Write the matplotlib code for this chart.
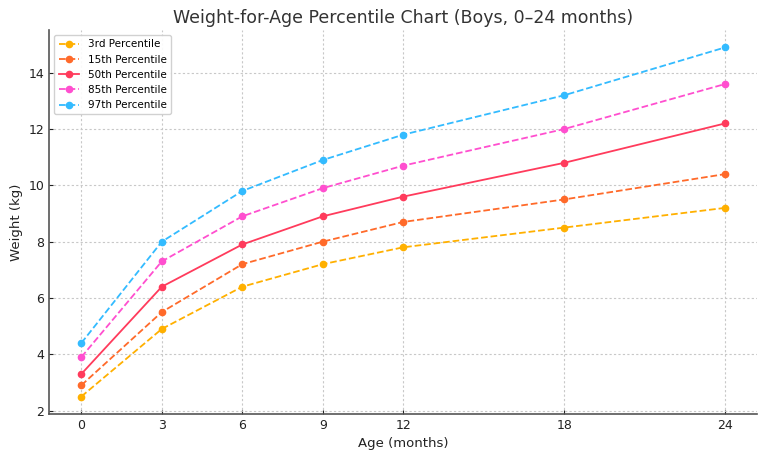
import matplotlib.pyplot as plt

ages = [0, 3, 6, 9, 12, 18, 24]
p3 = [2.5, 4.9, 6.4, 7.2, 7.8, 8.5, 9.2]
p15 = [2.9, 5.5, 7.2, 8.0, 8.7, 9.5, 10.4]
p50 = [3.3, 6.4, 7.9, 8.9, 9.6, 10.8, 12.2]
p85 = [3.9, 7.3, 8.9, 9.9, 10.7, 12.0, 13.6]
p97 = [4.4, 8.0, 9.8, 10.9, 11.8, 13.2, 14.9]
labels = ['3rd Percentile', '15th Percentile', '50th Percentile', '85th Percentile', '97th Percentile']


def main():
    fig = plt.figure(figsize=(7.68, 4.61), dpi=100)
    ax = fig.add_axes([0.064, 0.102, 0.922, 0.833])

    series = [p3, p15, p50, p85, p97]
    colors = ['#FFB000', '#FF6A2A', '#FF3B5C', '#FF4FCF', '#33BBFF']
    styles = ['--', '--', '-', '--', '--']
    for vals, lab, c, ls in zip(series, labels, colors, styles):
        ax.plot(ages, vals, ls, color=c, marker='o', markersize=4.5, linewidth=1.3, label=lab)

    ax.set_xticks(ages)
    ax.set_title('Weight-for-Age Percentile Chart (Boys, 0–24 months)', fontsize=12.5, color='#333333', pad=5)
    ax.set_xlabel('Age (months)', fontsize=9.5, color='#222222')
    ax.set_ylabel('Weight (kg)', fontsize=9.5, color='#222222')
    ax.grid(True, linestyle=(0, (2, 2)), color='#c8c8c8', linewidth=0.8)
    ax.tick_params(labelsize=9, direction='in', length=3, colors='#222222')
    for side in ['top', 'right']:
        ax.spines[side].set_visible(False)
    for side in ['left', 'bottom']:
        ax.spines[side].set_color('#555555')
        ax.spines[side].set_linewidth(1.2)
    ax.legend(loc='upper left', fontsize=7.5, framealpha=0.9, edgecolor='#cccccc')

    fig.savefig('out.png', dpi=100)


if __name__ == '__main__':
    main()
